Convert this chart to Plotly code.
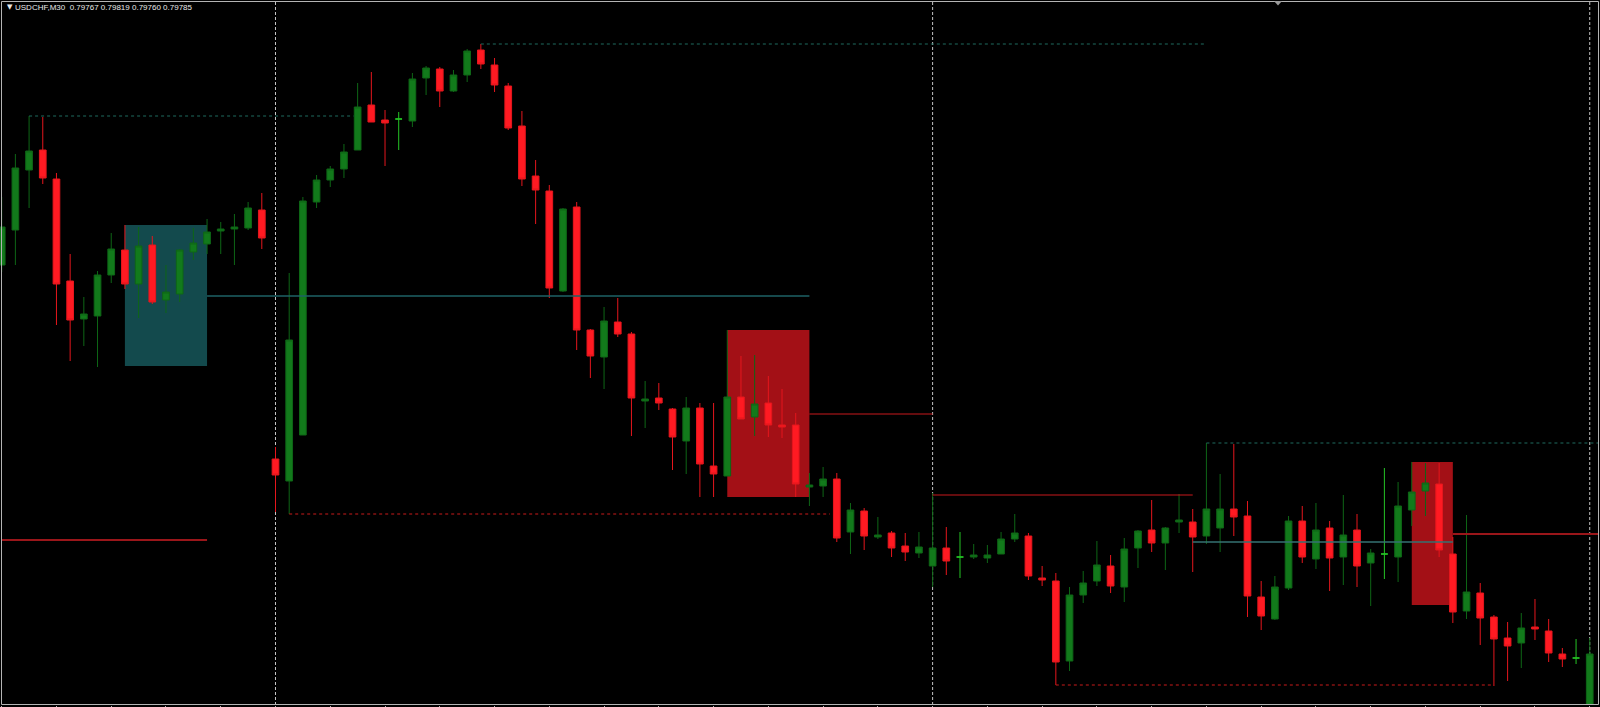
import plotly.graph_objects as go

symbol_title = "USDCHF,M30"
last_quote = ["0.79767", "0.79819", "0.79760", "0.79785"]

bar_index = list(range(117))
open_ = [0.80335, 0.80370, 0.80430, 0.80450, 0.80421, 0.80319, 0.80281, 0.80284, 0.80325, 0.80350,
         0.80316, 0.80355, 0.80300, 0.80306, 0.80348, 0.80356, 0.80369, 0.80371, 0.80372, 0.80390,
         0.80141, 0.80119, 0.80165, 0.80398, 0.80420, 0.80431, 0.80450, 0.80495, 0.80480, 0.80481,
         0.80479, 0.80522, 0.80531, 0.80509, 0.80525, 0.80550, 0.80535, 0.80514, 0.80474, 0.80424,
         0.80409, 0.80309, 0.80393, 0.80270, 0.80243, 0.80278, 0.80266, 0.80199, 0.80202, 0.80191,
         0.80159, 0.80192, 0.80134, 0.80124, 0.80203, 0.80183, 0.80197, 0.80175, 0.80175, 0.80113,
         0.80114, 0.80121, 0.80068, 0.80089, 0.80063, 0.80067, 0.80054, 0.80047, 0.80034, 0.80052,
         0.80043, 0.80043, 0.80042, 0.80046, 0.80061, 0.80064, 0.80022, 0.80019, 0.79939, 0.80005,
         0.80019, 0.80034, 0.80013, 0.80052, 0.80070, 0.80057, 0.80078, 0.80078, 0.80064, 0.80072,
         0.80091, 0.80084, 0.80003, 0.79981, 0.80012, 0.80079, 0.80041, 0.80072, 0.80043, 0.80070,
         0.80037, 0.80046, 0.80043, 0.80090, 0.80109, 0.80116, 0.80046, 0.79989, 0.80007, 0.79983,
         0.79962, 0.79957, 0.79973, 0.79969, 0.79946, 0.79942, 0.79884]
high = [0.80403, 0.80446, 0.80484, 0.80483, 0.80427, 0.80346, 0.80303, 0.80329, 0.80367, 0.80375,
        0.80373, 0.80364, 0.80335, 0.80351, 0.80372, 0.80381, 0.80378, 0.80386, 0.80398, 0.80407,
        0.80153, 0.80327, 0.80403, 0.80425, 0.80434, 0.80456, 0.80517, 0.80528, 0.80490, 0.80488,
        0.80527, 0.80534, 0.80533, 0.80530, 0.80551, 0.80556, 0.80542, 0.80517, 0.80489, 0.80440,
        0.80415, 0.80392, 0.80398, 0.80271, 0.80293, 0.80302, 0.80268, 0.80219, 0.80217, 0.80192,
        0.80203, 0.80197, 0.80197, 0.80270, 0.80244, 0.80245, 0.80224, 0.80211, 0.80187, 0.80127,
        0.80133, 0.80127, 0.80097, 0.80092, 0.80083, 0.80069, 0.80067, 0.80068, 0.80107, 0.80073,
        0.80068, 0.80056, 0.80055, 0.80068, 0.80086, 0.80067, 0.80034, 0.80027, 0.80013, 0.80029,
        0.80059, 0.80045, 0.80062, 0.80070, 0.80100, 0.80073, 0.80106, 0.80091, 0.80157, 0.80126,
        0.80156, 0.80099, 0.80019, 0.80024, 0.80084, 0.80094, 0.80097, 0.80079, 0.80105, 0.80086,
        0.80051, 0.80132, 0.80118, 0.80138, 0.80137, 0.80137, 0.80063, 0.80085, 0.80017, 0.79985,
        0.79978, 0.79987, 0.80001, 0.79981, 0.79952, 0.79961, 0.79962]
low = [0.80328, 0.80335, 0.80392, 0.80416, 0.80275, 0.80239, 0.80254, 0.80233, 0.80317, 0.80311,
       0.80282, 0.80296, 0.80287, 0.80298, 0.80340, 0.80346, 0.80346, 0.80335, 0.80370, 0.80351,
       0.80088, 0.80086, 0.80165, 0.80392, 0.80413, 0.80422, 0.80450, 0.80478, 0.80434, 0.80450,
       0.80473, 0.80505, 0.80493, 0.80508, 0.80518, 0.80531, 0.80508, 0.80470, 0.80414, 0.80376,
       0.80302, 0.80308, 0.80250, 0.80222, 0.80211, 0.80263, 0.80164, 0.80172, 0.80190, 0.80130,
       0.80126, 0.80103, 0.80103, 0.80124, 0.80181, 0.80164, 0.80163, 0.80162, 0.80103, 0.80094,
       0.80103, 0.80058, 0.80046, 0.80050, 0.80061, 0.80043, 0.80039, 0.80042, 0.80013, 0.80025,
       0.80022, 0.80041, 0.80037, 0.80046, 0.80058, 0.80020, 0.80014, 0.79915, 0.79929, 0.79997,
       0.80014, 0.80007, 0.79998, 0.80032, 0.80048, 0.80030, 0.80067, 0.80028, 0.80056, 0.80048,
       0.80064, 0.79983, 0.79970, 0.79980, 0.80010, 0.80037, 0.80031, 0.80009, 0.80015, 0.80013,
       0.79994, 0.80021, 0.80018, 0.80074, 0.80084, 0.80043, 0.79977, 0.79981, 0.79955, 0.79914,
       0.79919, 0.79932, 0.79960, 0.79938, 0.79933, 0.79936, 0.79878]
close = [0.80373, 0.80432, 0.80449, 0.80422, 0.80316, 0.80280, 0.80286, 0.80325, 0.80351, 0.80316,
         0.80354, 0.80298, 0.80308, 0.80350, 0.80357, 0.80368, 0.80371, 0.80373, 0.80392, 0.80362,
         0.80125, 0.80260, 0.80399, 0.80420, 0.80431, 0.80448, 0.80493, 0.80478, 0.80477, 0.80481,
         0.80521, 0.80532, 0.80509, 0.80525, 0.80549, 0.80536, 0.80515, 0.80472, 0.80421, 0.80410,
         0.80312, 0.80391, 0.80270, 0.80244, 0.80279, 0.80266, 0.80202, 0.80201, 0.80197, 0.80163,
         0.80192, 0.80136, 0.80126, 0.80203, 0.80181, 0.80196, 0.80175, 0.80173, 0.80116, 0.80115,
         0.80121, 0.80062, 0.80090, 0.80064, 0.80065, 0.80052, 0.80048, 0.80053, 0.80052, 0.80039,
         0.80043, 0.80045, 0.80045, 0.80061, 0.80067, 0.80024, 0.80020, 0.79938, 0.80005, 0.80017,
         0.80035, 0.80014, 0.80051, 0.80069, 0.80057, 0.80072, 0.80080, 0.80063, 0.80091, 0.80091,
         0.80083, 0.80004, 0.79984, 0.80013, 0.80079, 0.80043, 0.80070, 0.80042, 0.80065, 0.80034,
         0.80047, 0.80046, 0.80094, 0.80108, 0.80117, 0.80050, 0.79988, 0.80008, 0.79982, 0.79961,
         0.79954, 0.79972, 0.79971, 0.79947, 0.79941, 0.79942, 0.79946]

# day separators (bar indices)
separator_bars = [20, 68, 116]

# zones (rectangles)
zone_x0 = [9, 53, 103]
zone_x1 = [15, 59, 106]
zone_top = [0.80375, 0.80270, 0.80138]
zone_bottom = [0.80234, 0.80103, 0.79995]
zone_kind = ["demand", "supply", "supply"]

# solid levels
level_x0 = [0, 15, 59, 68, 87, 106]
level_x1 = [15, 59, 68, 87, 106, 118]
level_price = [0.80060, 0.80304, 0.80186, 0.80105, 0.80058, 0.80066]
level_kind = ["darkred", "teal", "red", "red", "teal2", "darkred"]

# dotted swing levels
swing_x0 = [2, 35, 88, 21, 77]
swing_x1 = [25.7, 88, 118, 60.5, 109]
swing_price = [0.80484, 0.80556, 0.80157, 0.80086, 0.79915]
swing_kind = ["high", "high", "high", "low", "low"]

W, H = 1600, 707
PW, PH = 1599, 705
BAR_PX = 13.69
FIRST_PX = 1.7
x_lo = -FIRST_PX / BAR_PX
x_hi = x_lo + PW / BAR_PX
y_hi = 0.80600
y_lo = y_hi - 0.00705

GREEN_FILL = "#127a1b"
GREEN_LINE = "#0e6616"
RED_FILL = "#ff1a22"
RED_LINE = "#e5161d"
DOJI = "#25c425"

reg = [i for i in bar_index if open_[i] != close[i]]
doj = [i for i in bar_index if open_[i] == close[i]]

fig = go.Figure()
fig.add_trace(go.Candlestick(
    x=[bar_index[i] for i in reg],
    open=[open_[i] for i in reg], high=[high[i] for i in reg],
    low=[low[i] for i in reg], close=[close[i] for i in reg],
    increasing=dict(fillcolor=GREEN_FILL, line=dict(color=GREEN_LINE, width=1)),
    decreasing=dict(fillcolor=RED_FILL, line=dict(color=RED_LINE, width=1)),
    whiskerwidth=0, hoverinfo="skip", showlegend=False,
))
fig.add_trace(go.Candlestick(
    x=[bar_index[i] for i in doj],
    open=[open_[i] for i in doj], high=[high[i] for i in doj],
    low=[low[i] for i in doj], close=[close[i] for i in doj],
    increasing=dict(fillcolor=DOJI, line=dict(color=DOJI, width=1)),
    decreasing=dict(fillcolor=DOJI, line=dict(color=DOJI, width=1)),
    whiskerwidth=0, hoverinfo="skip", showlegend=False,
))

shapes = []
# separators
for b in separator_bars:
    shapes.append(dict(type="line", xref="x", yref="paper", x0=b, x1=b, y0=0, y1=1,
                       line=dict(color="#c4c4c4", width=1, dash="3px,2px"), layer="below"))
# zones
zone_colors = {"demand": "#134a4d", "supply": "#a31016"}
for x0, x1, t, b, k in zip(zone_x0, zone_x1, zone_top, zone_bottom, zone_kind):
    shapes.append(dict(type="rect", xref="x", yref="y", x0=x0, x1=x1, y0=b, y1=t,
                       fillcolor=zone_colors[k], line=dict(width=0), layer="below"))
# levels
level_style = {"red": ("#c8181c", 1), "teal": ("#1e6266", 1.5), "teal2": ("#357272", 1.5),
               "darkred": ("#9a161a", 2)}
for x0, x1, p, k in zip(level_x0, level_x1, level_price, level_kind):
    c, w = level_style[k]
    shapes.append(dict(type="line", xref="x", yref="y", x0=x0, x1=x1, y0=p, y1=p,
                       line=dict(color=c, width=w), layer="above"))
# swing dotted
swing_colors = {"high": "#1e6a5e", "low": "#c81a1a"}
for x0, x1, p, k in zip(swing_x0, swing_x1, swing_price, swing_kind):
    shapes.append(dict(type="line", xref="x", yref="y", x0=x0, x1=x1, y0=p, y1=p,
                       line=dict(color=swing_colors[k], width=1, dash="3px,3px"), layer="above"))
# frame
shapes.append(dict(type="rect", xref="paper", yref="paper",
                   x0=1.5 / PW, x1=1598.5 / PW, y0=0.5 / PH, y1=(PH - 1.5) / PH,
                   line=dict(color="#b4b4b4", width=1), fillcolor="rgba(0,0,0,0)", layer="above"))
# chart shift marker
sx0, sx1, sxm = 1274 / PW, 1282 / PW, 1278 / PW
shapes.append(dict(type="path", xref="paper", yref="paper",
                   path=f"M {sx0},{(PH-1)/PH} L {sx1},{(PH-1)/PH} L {sxm},{(PH-5.5)/PH} Z",
                   fillcolor="#9a9a9a", line=dict(width=0), layer="above"))

annotations = [
    dict(xref="paper", yref="paper", x=4.5 / PW, y=(PH - 7.5) / PH, xanchor="left", yanchor="middle",
         text="▼", showarrow=False, font=dict(family="DejaVu Sans", size=7, color="#e8e8e8")),
    dict(xref="paper", yref="paper", x=13 / PW, y=(PH - 7.5) / PH, xanchor="left", yanchor="middle",
         text=symbol_title + "\u00a0\u00a0" + " ".join(last_quote), showarrow=False,
         font=dict(family="Liberation Sans, Arial", size=8, color="#e8e8e8")),
]

fig.update_layout(
    width=W, height=H,
    margin=dict(l=0, r=W - PW, t=0, b=H - PH, pad=0),
    paper_bgcolor="#000000", plot_bgcolor="#000000",
    shapes=shapes, annotations=annotations,
    hovermode=False, showlegend=False, dragmode=False,
    xaxis=dict(range=[x_lo, x_hi], rangeslider=dict(visible=False), showgrid=False, zeroline=False,
               showticklabels=False, ticks="outside", ticklen=2, tickcolor="#b4b4b4",
               tickmode="linear", tick0=0, dtick=4, fixedrange=True),
    yaxis=dict(range=[y_lo, y_hi], side="right", showgrid=False, zeroline=False,
               showticklabels=False, ticks="outside", ticklen=1, tickcolor="#b4b4b4",
               tickmode="linear", tick0=0.80572, dtick=0.000305, fixedrange=True),
)

fig.write_html("out.html", config={"displayModeBar": False, "staticPlot": True},
               post_script="document.body.style.margin='0';document.body.style.overflow='hidden';")
